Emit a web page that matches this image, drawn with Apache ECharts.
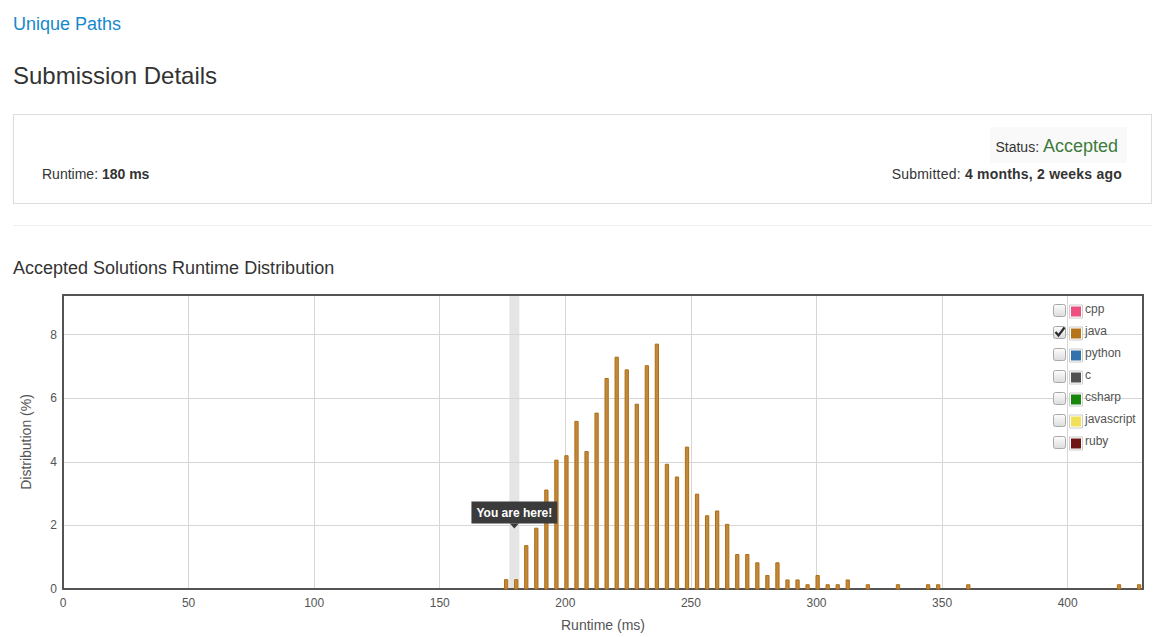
<!DOCTYPE html>
<html>
<head>
<meta charset="utf-8">
<script src="https://cdn.jsdelivr.net/npm/echarts@6/dist/echarts.min.js"></script>
<style>
  html, body { margin: 0; padding: 0; background: #fff; }
  body { width: 1165px; height: 637px; position: relative; overflow: hidden;
         font-family: "Liberation Sans", Arial, Helvetica, sans-serif; color: #333; }
  .abs { position: absolute; white-space: nowrap; line-height: 1; }
  #problem { left: 13px; top: 15px; font-size: 18px; color: #1688cc; }
  #heading { left: 13px; top: 63.5px; font-size: 24px; color: #333; }
  #box { position: absolute; left: 13px; top: 114px; width: 1137px; height: 88px;
         border: 1px solid #dddddd; }
  #runtime { left: 42px; top: 167.4px; font-size: 14px; color: #333; }
  #statusbg { position: absolute; left: 990px; top: 127px; width: 137px; height: 36px; background: #f9f9f9; }
  #status { right: 47px; top: 137px; font-size: 14px; color: #333; }
  #status .acc { font-size: 18px; color: #3d7a3d; }
  #submitted { right: 43px; top: 166.7px; font-size: 14px; color: #333; letter-spacing: 0.22px; }
  #hr { position: absolute; left: 13px; top: 225px; width: 1139px; height: 1px; background: #eeeeee; }
  #section { left: 13px; top: 259px; font-size: 18px; color: #333; }
  #chart { position: absolute; left: 0; top: 280px; width: 1165px; height: 357px; }
</style>
</head>
<body>
<div id="problem" class="abs">Unique Paths</div>
<div id="heading" class="abs">Submission Details</div>
<div id="box"></div>
<div id="runtime" class="abs">Runtime: <b>180 ms</b></div>
<div id="statusbg"></div>
<div id="status" class="abs">Status: <span class="acc">Accepted</span></div>
<div id="submitted" class="abs">Submitted: <b>4 months, 2 weeks ago</b></div>
<div id="hr"></div>
<div id="section" class="abs">Accepted Solutions Runtime Distribution</div>
<div id="chart"></div>
<script>
// ---- data ----
var runtimes = [176,180,184,188,192,196,200,204,208,212,216,220,224,228,232,236,240,244,248,252,256,260,264,268,272,276,280,284,288,292,296,300,304,308,312,320,332,344,348,360,420,428];
var javaDist = [0.31,0.31,1.38,1.93,3.13,4.07,4.21,5.29,4.34,5.55,6.64,7.31,6.91,5.83,7.04,7.72,3.94,3.54,4.48,3.00,2.32,2.47,2.05,1.10,1.10,0.84,0.44,0.84,0.30,0.30,0.15,0.44,0.15,0.15,0.30,0.15,0.15,0.15,0.15,0.15,0.15,0.15];
var languages = ['cpp','java','python','c','csharp','javascript','ruby'];
var langColors = ['#ec4f80','#b5731a','#3373ab','#525252','#16870c','#f1e05a','#701617'];
var langChecked = [false,true,false,false,false,false,false];
var myRuntime = 180;
var xTicks = [0,50,100,150,200,250,300,350,400];
var yTicks = [0,2,4,6,8];
var xMax = 430, yMax = 9.25;

var barData = runtimes.map(function (r, i) { return [r, javaDist[i]]; });

// legend graphics (checkbox, swatch, label)
var graphics = [];
languages.forEach(function (name, i) {
  var cy = 30.5 + i * 22;
  graphics.push({
    type: 'rect', left: 1053, top: cy - 6.5,
    shape: { width: 12, height: 12, r: 2 },
    style: {
      fill: new echarts.graphic.LinearGradient(0, 0, 0, 1, [
        { offset: 0, color: '#fdfdfd' }, { offset: 1, color: '#dcdcdc' }]),
      stroke: '#a9a9a9', lineWidth: 1
    }, z: 10
  });
  if (langChecked[i]) {
    graphics.push({
      type: 'polyline', z: 11,
      shape: { points: [[1055.5, cy - 0.5], [1058.5, cy + 3], [1064.5, cy - 5]] },
      style: { stroke: '#2b2b2b', lineWidth: 2.2, fill: null }
    });
  }
  graphics.push({
    type: 'rect', left: 1069, top: cy - 6,
    shape: { width: 13, height: 13 },
    style: { fill: '#ffffff', stroke: '#cccccc', lineWidth: 1 }, z: 10
  });
  graphics.push({
    type: 'rect', left: 1071, top: cy - 4,
    shape: { width: 10, height: 10 },
    style: { fill: langColors[i] }, z: 11
  });
  graphics.push({
    type: 'text', left: 1085, top: cy - 7.5,
    style: { text: name, fill: '#545454', font: '12px "Liberation Sans", Arial, sans-serif' }, z: 11
  });
});

var frameLine = { show: true, onZero: false, lineStyle: { color: '#545454', width: 2 } };
var splitStyle = { show: true, lineStyle: { color: '#d6d6d6', width: 1 } };

var chart = echarts.init(document.getElementById('chart'), null, { renderer: 'svg' });
chart.setOption({
  animation: false,
  textStyle: { fontFamily: '"Liberation Sans", Arial, sans-serif' },
  grid: { left: 63, right: 22, top: 15, bottom: 45.5, show: false, containLabel: false },
  xAxis: [{
    type: 'value', min: 0, max: xMax, interval: 50, position: 'bottom',
    name: 'Runtime (ms)', nameLocation: 'middle', nameGap: 29,
    nameTextStyle: { fontSize: 14, color: '#545454' },
    axisLine: frameLine, axisTick: { show: false },
    axisLabel: { color: '#545454', fontSize: 12, margin: 8, showMaxLabel: false,
      formatter: function (v) { return xTicks.indexOf(v) >= 0 ? String(v) : ''; } },
    splitLine: splitStyle, z: 2
  }, {
    type: 'value', min: 0, max: xMax, interval: 50, position: 'top',
    axisLine: frameLine, axisTick: { show: false }, axisLabel: { show: false },
    splitLine: { show: false }, z: 2
  }],
  yAxis: [{
    type: 'value', min: 0, max: yMax, interval: 2, position: 'left',
    name: 'Distribution (%)', nameLocation: 'middle', nameGap: 30,
    nameTextStyle: { fontSize: 14, color: '#545454' },
    axisLine: frameLine, axisTick: { show: false },
    axisLabel: { color: '#545454', fontSize: 12, margin: 6, showMaxLabel: false,
      formatter: function (v) { return yTicks.indexOf(v) >= 0 ? String(v) : ''; } },
    splitLine: splitStyle, z: 2
  }, {
    type: 'value', min: 0, max: yMax, interval: 2, position: 'right',
    axisLine: frameLine, axisTick: { show: false }, axisLabel: { show: false },
    splitLine: { show: false }, z: 2
  }],
  graphic: graphics,
  series: [
    {
      type: 'scatter', data: [], z: 1, silent: true,
      markArea: {
        silent: true,
        itemStyle: { color: '#e5e5e5' },
        data: [[{ xAxis: myRuntime - 2.3 }, { xAxis: myRuntime + 1.7 }]]
      }
    },
    {
      name: 'java', type: 'custom', z: 3,
      data: barData,
      encode: { x: 0, y: 1 },
      renderItem: function (params, api) {
        var v = api.value(0), h = api.value(1);
        var p0 = api.coord([v - 0.4, h]);
        var p1 = api.coord([v + 1.3, 0]);
        return {
          type: 'rect',
          shape: { x: p0[0] + 0.5, y: p0[1] + 0.5, width: p1[0] - p0[0] - 1, height: p1[1] - p0[1] - 0.5 },
          style: { fill: '#c08a3e', stroke: '#b06d12', lineWidth: 1 }
        };
      }
    },
    {
      type: 'scatter', data: [], z: 5, silent: true,
      markPoint: {
        silent: true,
        data: [{
          coord: [myRuntime - 0.3, 1.9],
          symbol: 'triangle', symbolRotate: 180, symbolSize: [9, 5], symbolOffset: [0, -2.5],
          itemStyle: { color: '#3b3b3b' },
          label: {
            show: true, position: 'top', distance: 0,
            formatter: 'You are here!',
            backgroundColor: '#3b3b3b', color: '#ffffff',
            fontSize: 12, fontWeight: 'bold', padding: [5, 5, 5, 5], lineHeight: 12
          }
        }]
      }
    }
  ]
});
</script>
</body>
</html>
